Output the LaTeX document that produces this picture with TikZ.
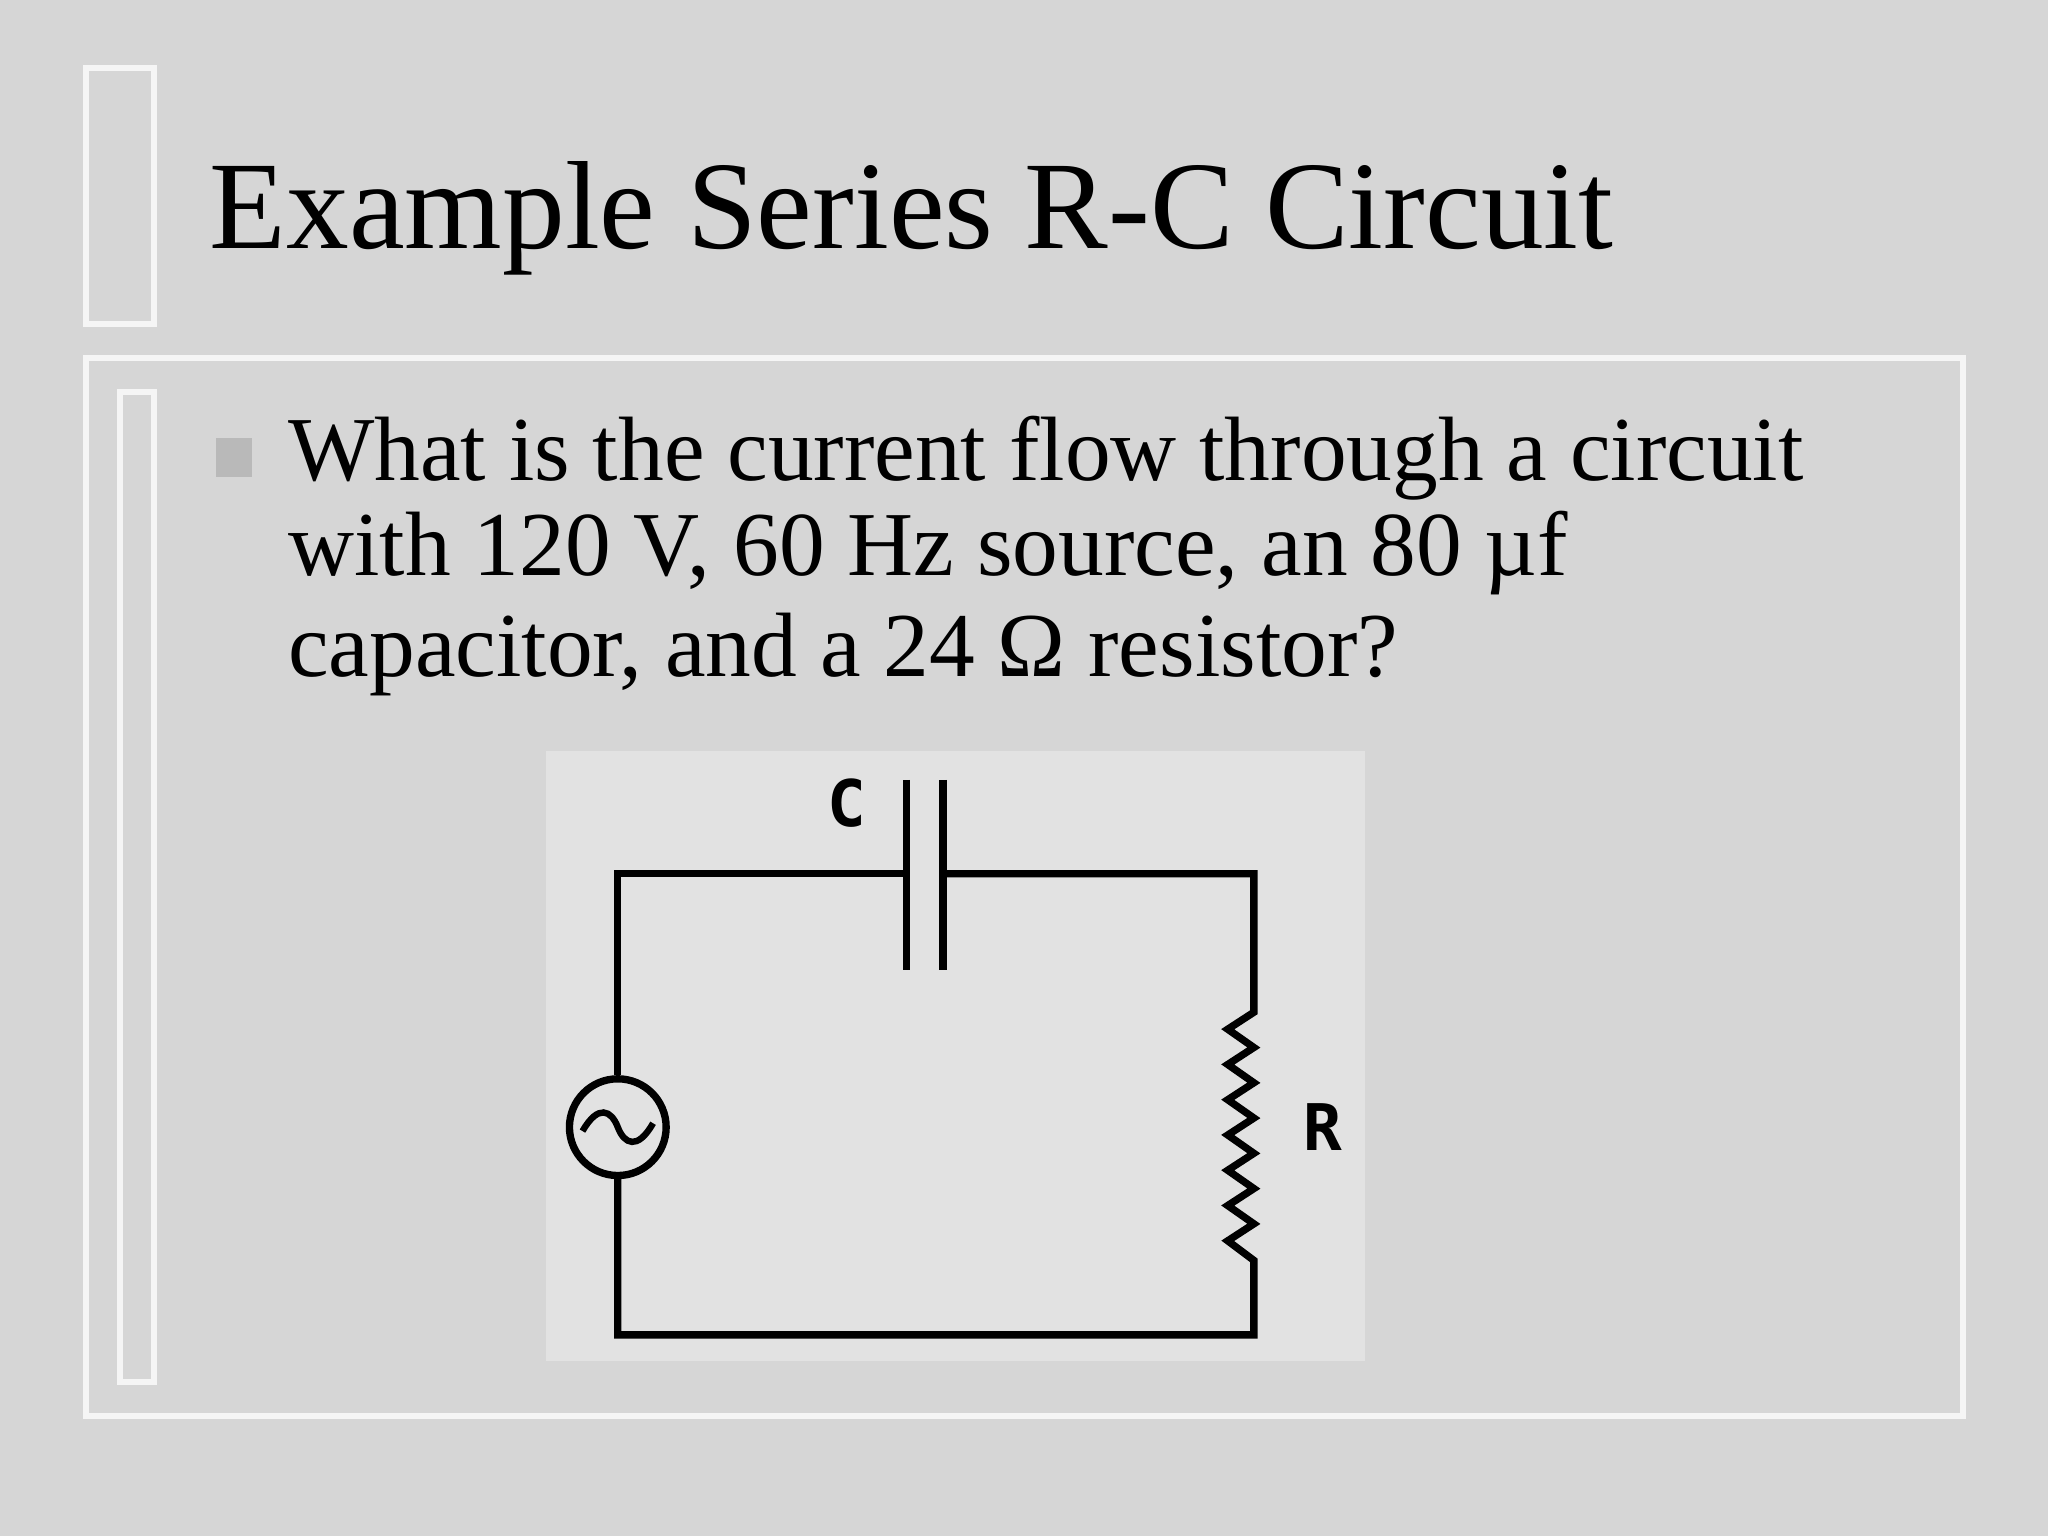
\documentclass[tikz,border=0pt]{standalone}
\usepackage{fontspec}
\setmainfont{Liberation Serif}
\newfontfamily\monob{DejaVu Sans Mono}
\definecolor{bg}{HTML}{D6D6D6}
\definecolor{panel}{HTML}{E2E2E2}
\tikzset{wire/.style={line width=1.6pt,black},frameln/.style={draw=white!92!gray,line width=1.2pt},
 bodyline/.style={anchor=base west,inner sep=0,font=\fontsize{19.9}{21}\selectfont}}
\begin{document}
\begin{tikzpicture}[x=0.01cm,y=-0.01cm]
\fill[bg] (0,0) rectangle (1568,1176);
\useasboundingbox (0,0) rectangle (1568,1176);
\draw[frameln] (66,52) rectangle (118,248);
\draw[frameln] (66,274) rectangle (1503,1084);
\draw[frameln] (92,300) rectangle (118,1058);
\node[anchor=base west,inner sep=0,font=\fontsize{27.3}{33}\selectfont] (title) at (160,190) {Example Series R-C Circuit};
\fill[gray!55] (165,335) rectangle (193,365);
\node[bodyline] (l1) at (220,368) {What is the current flow through a circuit};
\node[bodyline] (l2) at (220,441) {with 120 V, 60 Hz source, an 80 µf};
\node[bodyline] (l3) at (220,518) {capacitor, and a 24 Ω resistor?};
\fill[panel] (418,575) rectangle (1045,1042);
\coordinate (tl) at (473,669); \coordinate (tr) at (960,669);
\coordinate (bl) at (473,1022); \coordinate (br) at (960,1022);
\coordinate (c1) at (694,669); \coordinate (c2) at (722,669);
\node[circle,draw,line width=1.6pt,minimum size=0.74cm,inner sep=0] (src) at (473,863) {};
\draw[wire] (src.north) -- (tl) -- (c1);
\draw[wire] (694,597) -- (694,743);
\draw[wire] (722,597) -- (722,743);
\draw[wire] (c2) -- (tr) -- (960,775) -- (940,788) -- (960,802) -- (940,815) -- (960,829) -- (940,842) -- (960,856) -- (940,869) -- (960,883) -- (940,896) -- (960,910) -- (940,923) -- (960,937) -- (940,950) -- (960,965) -- (br) -- (bl) -- (src.south);
\draw[line width=1.4pt] (446,866) .. controls (458,845) and (468,850) .. (473,863) .. controls (478,876) and (488,881) .. (500,860);
\node[font=\monob\bfseries\fontsize{14}{14}\selectfont] (C) at (648,615) {C};
\node[font=\monob\bfseries\fontsize{14}{14}\selectfont] (R) at (1013,863) {R};
\end{tikzpicture}
\end{document}
